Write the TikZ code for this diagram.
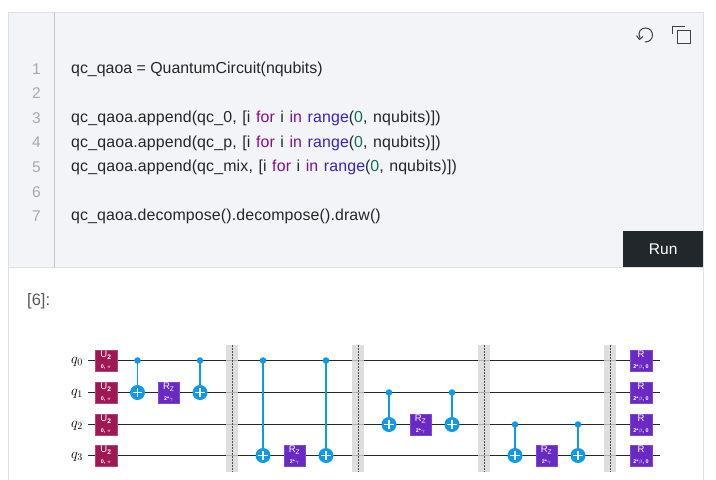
\documentclass[tikz,border=0pt]{standalone}
\usepackage{fontspec}
\setmainfont{Liberation Sans}[WordSpace=1.22]
\setsansfont{Liberation Sans}
\definecolor{panelbg}{HTML}{F2F4F8}
\definecolor{panelline}{HTML}{DDE1E6}
\definecolor{gutterline}{HTML}{C1C7CD}
\definecolor{lineno}{HTML}{A2A9B0}
\definecolor{codetxt}{HTML}{21272A}
\definecolor{kwfor}{HTML}{8A0A8F}
\definecolor{kwin}{HTML}{7A1296}
\definecolor{kwrange}{HTML}{3F1FBF}
\definecolor{kwnum}{HTML}{10735A}
\definecolor{rundark}{HTML}{21272A}
\definecolor{gatecrim}{HTML}{9F1853}
\definecolor{gatepurp}{HTML}{6929C4}
\definecolor{cxblue}{HTML}{0F9AE6}
\definecolor{barfill}{HTML}{D6D6D6}
\definecolor{wirecol}{HTML}{262626}
\tikzset{
  codeline/.style={anchor=base west,inner sep=0,text=codetxt,font=\fontsize{15.9}{17}\selectfont},
  linenum/.style={anchor=base,inner sep=0,text=lineno,font=\fontsize{15.5}{17}\selectfont},
  wire/.style={draw=wirecol,line width=1.4pt},
  gatebox/.style={minimum width=21.5pt,minimum height=21.5pt,inner sep=0,align=center,text=white},
  ugate/.style={gatebox,fill=gatecrim,draw=gatecrim!80!white,line width=.4pt},
  pgate/.style={gatebox,fill=gatepurp,draw=gatepurp!85!white,line width=.4pt},
  ctrl/.style={circle,fill=cxblue,minimum size=6.6pt,inner sep=0},
  targ/.style={circle,fill=cxblue,minimum size=15pt,inner sep=0},
  cxline/.style={draw=cxblue,line width=1.4pt},
  barline/.style={draw=black!70,line width=.7pt,dash pattern=on 2pt off 1pt},
  qlabel/.style={anchor=base east,inner sep=0,text=black,font=\fontsize{14.5}{16}\selectfont},
}
\newcommand{\gatetxt}[2]{{\fontsize{9.5}{9.5}\selectfont #1}\\[-1.2pt]{\fontsize{5.4}{5.6}\selectfont\bfseries #2}}
\newcommand{\cxgate}[4]{% name, x, control y, target y
  \coordinate (#1c) at (#2,#3);
  \coordinate (#1t) at (#2,#4);
  \node[targ] (#1T) at (#1t) {};
  \node[ctrl] (#1C) at (#1c) {};
  \draw[cxline] (#1C.center) -- (#1T.center);
  \draw[white,line width=1.1pt] ([xshift=-4.6pt]#1t) -- ([xshift=4.6pt]#1t) ([yshift=-4.6pt]#1t) -- ([yshift=4.6pt]#1t);
}
\begin{document}
\begin{tikzpicture}[x=1pt,y=-1pt]
\useasboundingbox (0,0) rectangle (716,480);
% panels
\fill[white] (0,0) rectangle (716,480);
\fill[panelbg] (8.5,12.5) rectangle (703,267);
\draw[panelline,line width=1pt] (8.5,480) -- (8.5,12.5) -- (703,12.5) -- (703,480);
\draw[panelline,line width=1pt] (8.5,267) -- (703,267);
\draw[gutterline,line width=1pt] (54.5,13) -- (54.5,267);
% line numbers
\foreach \n/\yy in {1/74,2/98,3/123,4/147.5,5/172,6/197,7/221}
  \node[linenum] (num\n) at (36.5,\yy) {\n};
% code
\node[codeline] (l1) at (71,73.5) {qc\_qaoa = QuantumCircuit(nqubits)};
\node[codeline] (l3) at (71,122.5) {\addfontfeature{LetterSpace=0.96}qc\_qaoa.append(qc\_0, [i \textcolor{kwfor}{for} i \textcolor{kwin}{in} \textcolor{kwrange}{range}(\textcolor{kwnum}{0}, nqubits)])};
\node[codeline] (l4) at (71,147) {\addfontfeature{LetterSpace=0.96}qc\_qaoa.append(qc\_p, [i \textcolor{kwfor}{for} i \textcolor{kwin}{in} \textcolor{kwrange}{range}(\textcolor{kwnum}{0}, nqubits)])};
\node[codeline] (l5) at (71,171.5) {\addfontfeature{LetterSpace=0.96}qc\_qaoa.append(qc\_mix, [i \textcolor{kwfor}{for} i \textcolor{kwin}{in} \textcolor{kwrange}{range}(\textcolor{kwnum}{0}, nqubits)])};
\node[codeline] (l7) at (71,220.5) {\addfontfeature{LetterSpace=0.8}qc\_qaoa.decompose().decompose().draw()};
% icons
\draw[black!75,line width=1pt] (640,38) .. controls (637,32) and (641,28) .. (645.5,28) .. controls (650,28) and (652.5,31.5) .. (652.5,35) .. controls (652.5,39) and (649.5,42) .. (645,42);
\draw[black!75,line width=1pt] (636.5,35.5) -- (639.5,39.5) -- (643,36.5);
\draw[black!75,line width=1pt] (672.5,34) -- (672.5,26.5) -- (685,26.5);
\draw[black!75,line width=1pt] (677,30.5) rectangle (690,43.5);
% run button
\node[fill=rundark,text=white,minimum width=80pt,minimum height=36pt,inner sep=0,anchor=north west,font=\fontsize{15.5}{16}\selectfont] (run) at (623,231) {Run};
% prompt
\node[anchor=base west,inner sep=0,text=black!65,font=\fontsize{16.5}{17}\selectfont] (prompt) at (27,305) {[6]:};
% wires
\foreach \i/\yy in {0/360.5,1/392.5,2/424.5,3/455.5}{
  \coordinate (ws\i) at (88,\yy);
  \coordinate (we\i) at (660,\yy);
  \draw[wire] (ws\i) -- (we\i);
  \node[qlabel] (ql\i) at (83,\yy+3) {$q_{\i}$};
}
% barriers
\foreach \b/\xx in {1/232,2/358,3/484,4/610}{
  \fill[barfill,opacity=.8] (\xx-6,345) rectangle (\xx+6,472);
  \coordinate (bt\b) at (\xx,345);
  \coordinate (bb\b) at (\xx,472);
  \draw[barline] (bt\b) -- (bb\b);
}
% U2 gates and R gates
\foreach \i/\yy in {0/360.5,1/392.5,2/424.5,3/455.5}{
  \node[ugate] (u\i) at (106,\yy) {\gatetxt{U$_{\mathbf 2}$}{0, $\pi$}};
  \node[pgate] (r\i) at (641,\yy) {\gatetxt{R}{2*$\beta$, 0}};
}
% CX + Rz groups
\cxgate{a}{137.5}{360.5}{392.5}
\node[pgate] (rza) at (168.8,392.5) {\gatetxt{R$_{\mathrm Z}$}{2*$\gamma$}};
\cxgate{b}{200}{360.5}{392.5}
\cxgate{c}{263}{360.5}{455.5}
\node[pgate] (rzb) at (294.5,455.5) {\gatetxt{R$_{\mathrm Z}$}{2*$\gamma$}};
\cxgate{d}{326}{360.5}{455.5}
\cxgate{e}{389}{392.5}{424.5}
\node[pgate] (rzc) at (420.5,424.5) {\gatetxt{R$_{\mathrm Z}$}{2*$\gamma$}};
\cxgate{f}{452}{392.5}{424.5}
\cxgate{g}{515}{424.5}{455.5}
\node[pgate] (rzd) at (546.5,455.5) {\gatetxt{R$_{\mathrm Z}$}{2*$\gamma$}};
\cxgate{h}{578}{424.5}{455.5}
\end{tikzpicture}
\end{document}
